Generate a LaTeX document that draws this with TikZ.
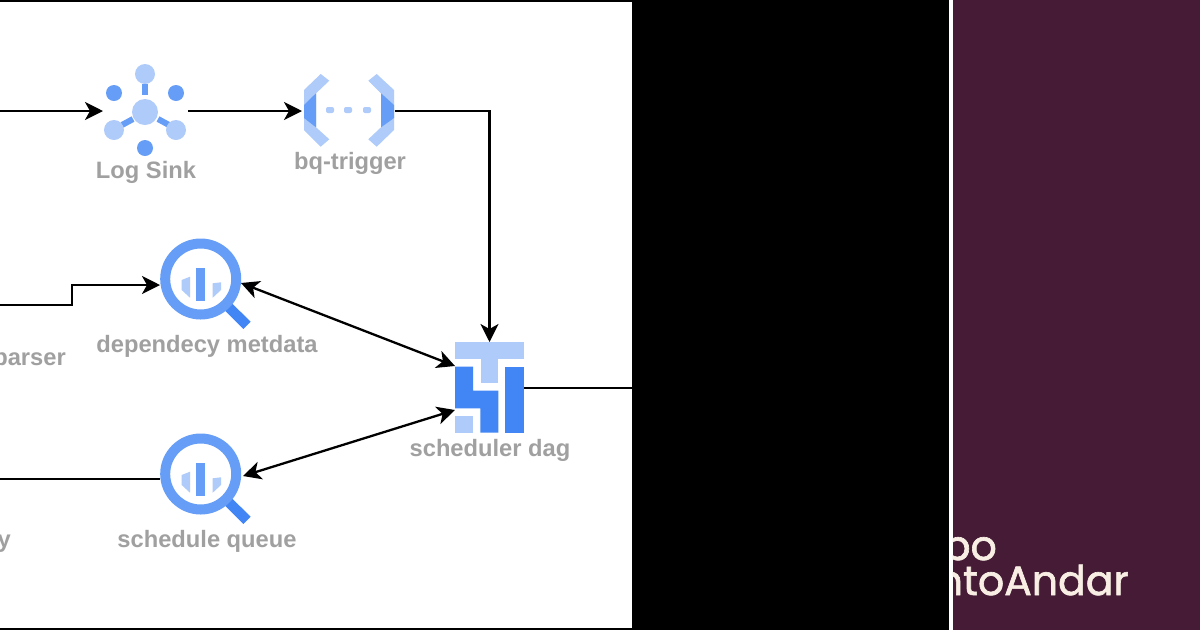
\documentclass[tikz,border=0pt]{standalone}
\usepackage{fontspec}
\setmainfont{Liberation Sans}
\newfontfamily\brandfont[FakeBold=1.6]{Poppins}
\usetikzlibrary{arrows.meta}
\definecolor{lightblue}{HTML}{AECBFA}
\definecolor{midblue}{HTML}{669DF6}
\definecolor{darkblue}{HTML}{4285F4}
\definecolor{labelgrey}{HTML}{A0A0A0}
\definecolor{brandpurple}{HTML}{451B36}
\definecolor{brandcream}{HTML}{F8EEE4}
\tikzset{
  x=1pt,y=-1pt,
  iconbox/.style={inner sep=0pt,outer sep=0pt,minimum width=#1,minimum height=#1},
  lbl/.style={font=\fontsize{23.7}{24}\selectfont\bfseries,text=labelgrey,inner sep=0pt},
  brand/.style={font=\brandfont\fontsize{41}{41}\selectfont,text=brandcream,inner sep=0pt,anchor=base east},
  conn/.style={draw=black,line width=2.3pt,line join=miter},
  tip/.style={-{Stealth[length=18pt,width=18pt,inset=5pt]}},
  tips/.style={{Stealth[length=18pt,width=18pt,inset=5pt]}-{Stealth[length=18pt,width=18pt,inset=5pt]}},
}
\newcommand{\magnifier}[2]{%
  \begin{scope}[shift={(#1,#2)}]
    \fill[darkblue] (29,22) -- (50.2,42.7) -- (42.8,50) -- (22,29) -- cycle;
    \draw[midblue,line width=10pt] (0.2,0) circle[radius=35.5];
    \fill[midblue] (-4.5,-11.3) rectangle (4.5,22);
    \fill[lightblue] (-18.8,1) -- (-10.5,-2.3) -- (-10.5,18.7) -- (-18.8,11) -- cycle;
    \fill[lightblue] (12.2,4.3) -- (20.5,3.3) -- (20.5,11) -- (12.2,18.7) -- cycle;
  \end{scope}}
\begin{document}
\begin{tikzpicture}
\useasboundingbox (0,0) rectangle (1200,630);
\fill[white] (0,0) rectangle (1200,630);
\fill[black] (0,0) rectangle (632,1.5);
\fill[black] (0,628) rectangle (632,630);
\fill[black] (632,0) rectangle (949,630);
\fill[brandpurple] (952.5,0) rectangle (1200,630);

% Log Sink icon
\fill[lightblue] (145,74) circle[radius=10];
\fill[midblue] (142,84) rectangle (148,95);
\fill[midblue] (114,93) circle[radius=8];
\fill[midblue] (176,93) circle[radius=8];
\fill[lightblue] (145,112) circle[radius=13];
\draw[midblue,line width=6pt] (122,125) -- (133,119);
\draw[midblue,line width=6pt] (158,119) -- (169,125);
\fill[lightblue] (114,130) circle[radius=10];
\fill[lightblue] (176,130) circle[radius=10];
\fill[midblue] (145,148) circle[radius=8];
\node[iconbox=85pt] (logsink) at (145.5,111) {};

% bq-trigger icon
\fill[lightblue] (320.7,74) -- (304,90) -- (304,130) -- (320.7,146.7) -- (329.3,139.3) -- (316,127.3) -- (316,93.3) -- (329.3,80.7) -- cycle;
\fill[midblue] (316,93.3) -- (304,105) -- (304,118) -- (316,127.3) -- cycle;
\fill[lightblue] (376.7,74) -- (394,90) -- (394,130) -- (376.7,146.7) -- (368.3,139.3) -- (381,127.3) -- (381,93.3) -- (368.3,80.7) -- cycle;
\fill[midblue] (381,93.3) -- (394,105) -- (394,118) -- (381,127.3) -- cycle;
\fill[lightblue,rounded corners=2pt] (326,107) rectangle (334,113);
\fill[lightblue,rounded corners=2pt] (344,107) rectangle (352,113);
\fill[lightblue,rounded corners=2pt] (363,107) rectangle (371,113);
\node[iconbox=93pt] (bq) at (348.5,111) {};

% BigQuery icons
\magnifier{200.5}{279}
\node[iconbox=81pt] (dep) at (200.5,279) {};
\magnifier{200.5}{474}
\node[iconbox=81pt] (queue) at (200.5,474) {};

% Scheduler icon
\fill[lightblue] (455,342.3) rectangle (523.7,359.3);
\fill[lightblue] (481,359.3) rectangle (498.3,383.3);
\fill[darkblue] (455,366.7) -- (473,366.7) -- (473,390.7) -- (498.3,390.7) -- (498.3,432.7) -- (480.3,432.7) -- (480.3,408.3) -- (455,408.3) -- cycle;
\fill[darkblue] (505.3,366.7) rectangle (523.7,432.7);
\fill[lightblue] (455,415.7) rectangle (473,432.7);
\node[iconbox=69pt,minimum height=92pt] (sched) at (489.5,388) {};

% Free ends
\coordinate (inlog) at (0,111);
\coordinate (inparser) at (0,305);
\coordinate (bend) at (72,305);
\coordinate (bendtop) at (72,285);
\coordinate (inqueue) at (0,479);
\coordinate (outsched) at (632,388);

% Connectors
\draw[conn,tip] (inlog) -- (logsink.west);
\draw[conn,tip] (logsink.east) -- (bq.west);
\draw[conn,tip] (bq.east) -| (sched.north);
\draw[conn,tip] (inparser) -- (bend) -- (bendtop) -- ([yshift=-6pt]dep.west);
\draw[conn,tips] ([yshift=-4pt]dep.east) -- ([yshift=22pt]sched.west);
\draw[conn] (inqueue) -- ([yshift=-5pt]queue.west);
\draw[conn,tips] ([xshift=2pt,yshift=-2pt]queue.east) -- ([yshift=-22pt]sched.west);
\draw[conn] (sched.east) -- (outsched);

% Labels
\node[lbl] (tlog) at (146,172) {Log Sink};
\node[lbl] (tbq) at (350,163) {bq-trigger};
\node[lbl] (tdep) at (207,346) {dependecy metdata};
\node[lbl] (tsched) at (490,450) {scheduler dag};
\node[lbl] (tqueue) at (207,541) {schedule queue};
\begin{scope}
\clip (0,0) rectangle (200,630);
\node[lbl,anchor=base east] (tparser) at (66,365) {parser};
\node[lbl,anchor=base east] (ty) at (11,547) {y};
\end{scope}

% Brand text
\begin{scope}
\clip (952.5,0) rectangle (1200,630);
\node[brand] (brandone) at (997,560) {po};
\node[brand] (brandtwo) at (1129,595) {ntoAndar};
\end{scope}
\end{tikzpicture}
\end{document}
